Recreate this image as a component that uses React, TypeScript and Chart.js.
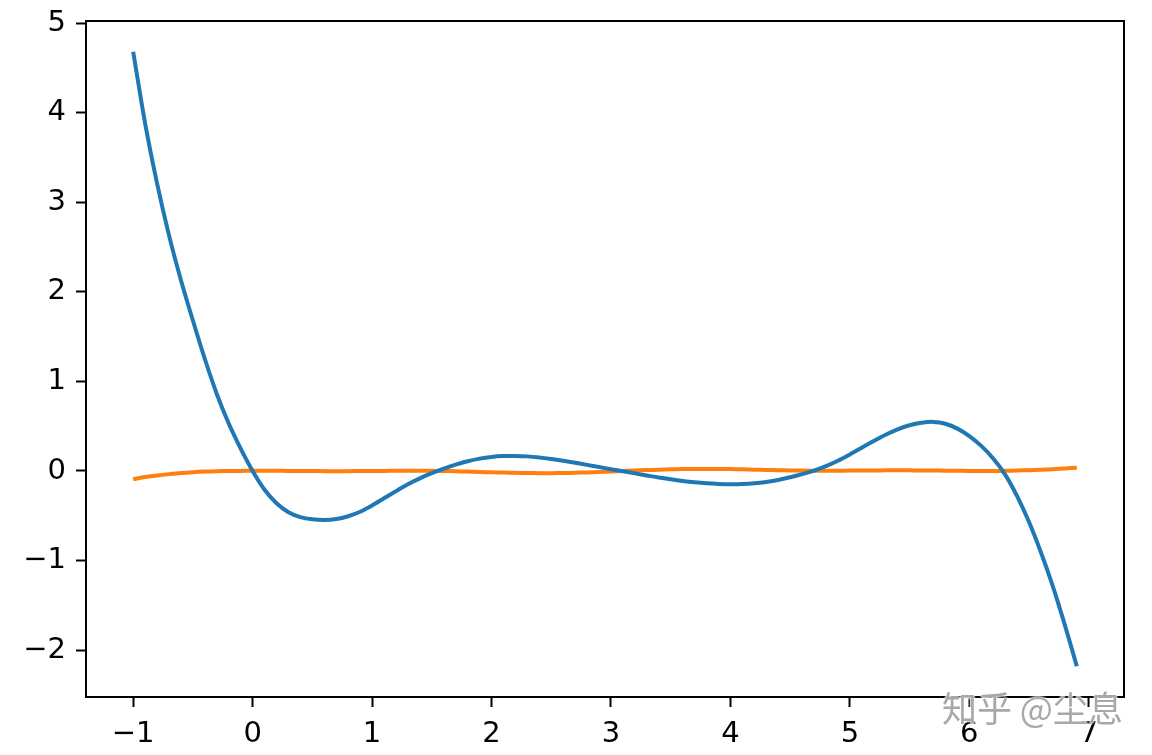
import React, { useEffect, useRef } from "react";
import { Chart, registerables } from "chart.js";

Chart.register(...registerables);

const xValues = [
  -1.0, -0.9, -0.8, -0.7, -0.6, -0.5, -0.4, -0.3, -0.2, -0.1,
  0.0, 0.1, 0.2, 0.3, 0.4, 0.5, 0.6, 0.7, 0.8, 0.9,
  1.0, 1.1, 1.2, 1.3, 1.4, 1.5, 1.6, 1.7, 1.8, 1.9,
  2.0, 2.1, 2.2, 2.3, 2.4, 2.5, 2.6, 2.7, 2.8, 2.9,
  3.0, 3.1, 3.2, 3.3, 3.4, 3.5, 3.6, 3.7, 3.8, 3.9,
  4.0, 4.1, 4.2, 4.3, 4.4, 4.5, 4.6, 4.7, 4.8, 4.9,
  5.0, 5.1, 5.2, 5.3, 5.4, 5.5, 5.6, 5.7, 5.8, 5.9,
  6.0, 6.1, 6.2, 6.3, 6.4, 6.5, 6.6, 6.7, 6.8, 6.9,
];

const blueValues = [
  4.68, 3.88, 3.21, 2.63, 2.13, 1.68, 1.25, 0.86, 0.53, 0.25,
  0.0, -0.21, -0.36, -0.46, -0.515, -0.54, -0.548, -0.537, -0.505, -0.455,
  -0.385, -0.305, -0.225, -0.148, -0.082, -0.025, 0.025, 0.07, 0.108, 0.138,
  0.157, 0.166, 0.168, 0.163, 0.151, 0.134, 0.114, 0.092, 0.068, 0.044,
  0.02, -0.003, -0.027, -0.05, -0.073, -0.093, -0.111, -0.126, -0.137, -0.144,
  -0.147, -0.145, -0.137, -0.122, -0.1, -0.07, -0.035, 0.005, 0.055, 0.115,
  0.185, 0.26, 0.335, 0.405, 0.465, 0.51, 0.538, 0.548, 0.527, 0.473,
  0.39, 0.28, 0.14, -0.04, -0.28, -0.57, -0.91, -1.29, -1.72, -2.18,
];

const orangeValues = [
  -0.09, -0.068, -0.05, -0.035, -0.022, -0.013, -0.007, -0.003, 0.0, 0.001,
  0.002, 0.002, 0.002, 0.001, 0.0, -0.001, -0.002, -0.002, -0.002, -0.001,
  0.0, 0.001, 0.002, 0.003, 0.003, 0.002, 0.0, -0.003, -0.007, -0.011,
  -0.015, -0.018, -0.021, -0.023, -0.024, -0.024, -0.023, -0.02, -0.016, -0.011,
  -0.005, 0.0, 0.005, 0.01, 0.014, 0.018, 0.021, 0.022, 0.023, 0.022,
  0.021, 0.018, 0.015, 0.012, 0.009, 0.006, 0.004, 0.003, 0.003, 0.003,
  0.004, 0.005, 0.006, 0.007, 0.007, 0.007, 0.006, 0.005, 0.003, 0.002,
  0.001, 0.0, 0.0, 0.002, 0.005, 0.009, 0.014, 0.02, 0.028, 0.037,
];

const xTicks = [-1, 0, 1, 2, 3, 4, 5, 6, 7];
const yTicks = [-2, -1, 0, 1, 2, 3, 4, 5];
const watermark = "知乎 @尘息";

const fmt = (v: number) => (v < 0 ? "\u2212" + Math.abs(v) : String(v));

const framePlugin = {
  id: "frame",
  afterDatasetsDraw(chart: any) {
    const { ctx, chartArea } = chart;
    ctx.save();
    ctx.strokeStyle = "#000";
    ctx.lineWidth = 2;
    ctx.strokeRect(chartArea.left, chartArea.top, chartArea.right - chartArea.left, chartArea.bottom - chartArea.top);
    ctx.restore();
  },
};

export default function App() {
  const ref = useRef<HTMLCanvasElement | null>(null);
  useEffect(() => {
    if (!ref.current) return;
    const tickFont = { family: "DejaVu Sans", size: 29 };
    const lineStyle = {
      borderWidth: 4,
      pointRadius: 0,
      tension: 0.3,
      borderJoinStyle: "round",
      fill: false,
    };
    const chart = new Chart(ref.current, {
      type: "line",
      data: {
        datasets: [
          {
            data: xValues.map((x, i) => ({ x, y: blueValues[i] })),
            borderColor: "#1f77b4",
            ...lineStyle,
          },
          {
            data: xValues.map((x, i) => ({ x, y: orangeValues[i] })),
            borderColor: "#ff7f0e",
            ...lineStyle,
          },
        ],
      },
      options: {
        animation: false,
        responsive: false,
        devicePixelRatio: 1,
        layout: { padding: { top: 21, right: 28, left: 0, bottom: 0 } },
        plugins: { legend: { display: false }, tooltip: { enabled: false } },
        scales: {
          x: {
            type: "linear",
            min: -1.395,
            max: 7.295,
            afterBuildTicks: (axis: any) => {
              axis.ticks = xTicks.map((v) => ({ value: v }));
            },
            afterFit: (scale: any) => {
              scale.height = 58;
              scale.paddingLeft = 0;
              scale.paddingRight = 0;
            },
            border: { display: false },
            grid: { display: true, drawOnChartArea: false, drawTicks: true, tickLength: 10, tickColor: "#000", tickWidth: 2 },
            ticks: { color: "#000", font: tickFont, padding: 10, maxRotation: 0, autoSkip: false, callback: (v: any) => fmt(Number(v)) },
          },
          y: {
            type: "linear",
            min: -2.523,
            max: 5.023,
            afterBuildTicks: (axis: any) => {
              axis.ticks = yTicks.map((v) => ({ value: v }));
            },
            afterFit: (scale: any) => {
              scale.width = 86;
              scale.paddingTop = 0;
              scale.paddingBottom = 0;
            },
            border: { display: false },
            grid: { display: true, drawOnChartArea: false, drawTicks: true, tickLength: 10, tickColor: "#000", tickWidth: 2 },
            ticks: { color: "#000", font: tickFont, padding: 10, autoSkip: false, callback: (v: any) => fmt(Number(v)) },
          },
        },
      },
      plugins: [framePlugin],
    } as any);
    return () => chart.destroy();
  }, []);

  return (
    <div style={{ position: "fixed", left: 0, top: 0, width: 1152, height: 755, background: "#fff" }}>
      <canvas ref={ref} width={1152} height={755} style={{ width: 1152, height: 755, display: "block" }} />
      <div
        style={{
          position: "absolute",
          left: 942,
          top: 689,
          fontFamily: "'Noto Sans CJK SC', sans-serif",
          fontSize: 35,
          color: "#a8a8a8",
          whiteSpace: "nowrap",
          textShadow: "0 0 2px #fff, 0 0 2px #fff, 0 0 3px #fff",
          lineHeight: 1,
        }}
      >
        {watermark}
      </div>
    </div>
  );
}
